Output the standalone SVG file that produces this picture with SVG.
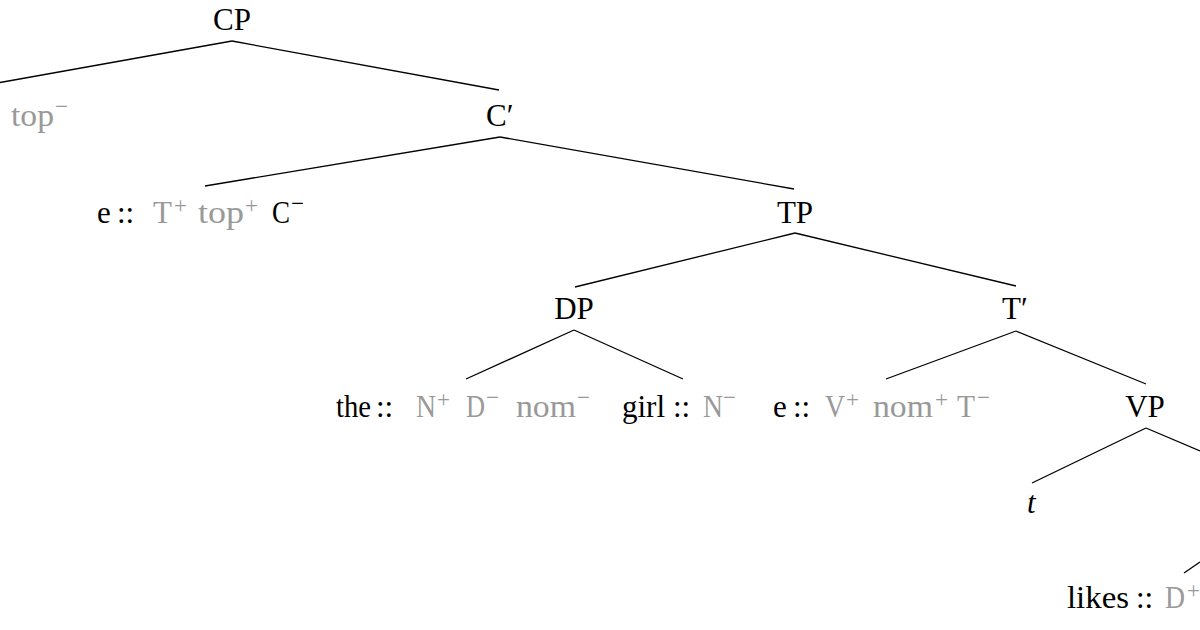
<svg xmlns="http://www.w3.org/2000/svg" width="1200" height="630" viewBox="0 0 1200 630">
<style>
text { font-family: "Liberation Serif", "DejaVu Serif", serif; font-size: 31px; fill: #000; }
.g { fill: #999; }
.sup { font-size: 23px; }
.c { text-anchor: middle; }
.it { font-style: italic; }
#connectors line { stroke: #000; stroke-width: 1.3; fill: none; }
</style>
<rect width="1200" height="630" fill="#fff"/>
<g id="connectors">
<line x1="232" y1="41" x2="0" y2="82.5"/>
<line x1="232" y1="41" x2="499" y2="90"/>
<line x1="500" y1="137" x2="205" y2="186"/>
<line x1="500" y1="137" x2="794" y2="189"/>
<line x1="795" y1="233" x2="575" y2="287"/>
<line x1="795" y1="233" x2="1016" y2="286"/>
<line x1="574" y1="330" x2="466" y2="379"/>
<line x1="574" y1="330" x2="683" y2="379"/>
<line x1="1016" y1="331" x2="886" y2="379"/>
<line x1="1016" y1="331" x2="1146" y2="384"/>
<line x1="1146" y1="428" x2="1032" y2="483"/>
<line x1="1146" y1="428" x2="1200" y2="451"/>
<line x1="1184" y1="573" x2="1200" y2="562"/>
</g>
<g id="node-CP"><text class="c" x="232" y="30">CP</text></g>
<g id="node-top"><text class="g"><tspan x="11" y="126" textLength="43" lengthAdjust="spacingAndGlyphs">top</tspan><tspan class="sup" x="55" y="114">−</tspan></text></g>
<g id="node-Cbar"><text x="486" y="126">C′</text></g>
<g id="node-C"><text><tspan x="97" y="223">e</tspan><tspan x="117" y="223">::</tspan><tspan class="g" x="153" y="223">T</tspan><tspan class="g sup" x="174" y="213">+</tspan><tspan class="g" x="198" y="223" textLength="46" lengthAdjust="spacingAndGlyphs">top</tspan><tspan class="g sup" x="245" y="213">+</tspan><tspan x="272" y="223" textLength="18" lengthAdjust="spacingAndGlyphs">C</tspan><tspan class="sup" x="291" y="211">−</tspan></text></g>
<g id="node-TP"><text class="c" x="795" y="223">TP</text></g>
<g id="node-DP"><text class="c" x="574" y="319">DP</text></g>
<g id="node-Tbar"><text x="1002" y="319">T′</text></g>
<g id="node-the"><text><tspan x="336" y="417" textLength="35" lengthAdjust="spacingAndGlyphs">the</tspan><tspan x="376" y="417">::</tspan><tspan class="g" x="416" y="417" textLength="20" lengthAdjust="spacingAndGlyphs">N</tspan><tspan class="g sup" x="437" y="407">+</tspan><tspan class="g" x="466" y="417" textLength="19" lengthAdjust="spacingAndGlyphs">D</tspan><tspan class="g sup" x="486" y="405">−</tspan><tspan class="g" x="516" y="417" textLength="60" lengthAdjust="spacingAndGlyphs">nom</tspan><tspan class="g sup" x="577" y="405">−</tspan></text></g>
<g id="node-girl"><text><tspan x="622" y="417">girl</tspan><tspan x="673" y="417">::</tspan><tspan class="g" x="703" y="417" textLength="20" lengthAdjust="spacingAndGlyphs">N</tspan><tspan class="g sup" x="723" y="405">−</tspan></text></g>
<g id="node-T"><text><tspan x="773" y="417">e</tspan><tspan x="793" y="417">::</tspan><tspan class="g" x="825" y="417" textLength="20" lengthAdjust="spacingAndGlyphs">V</tspan><tspan class="g sup" x="846" y="407">+</tspan><tspan class="g" x="873" y="417" textLength="60" lengthAdjust="spacingAndGlyphs">nom</tspan><tspan class="g sup" x="935" y="407">+</tspan><tspan class="g" x="957" y="417" textLength="18" lengthAdjust="spacingAndGlyphs">T</tspan><tspan class="g sup" x="977" y="405">−</tspan></text></g>
<g id="node-VP"><text class="c" x="1145" y="417">VP</text></g>
<g id="node-t"><text class="it" x="1027" y="513">t</text></g>
<g id="node-likes"><text><tspan x="1067" y="608" textLength="62" lengthAdjust="spacingAndGlyphs">likes</tspan><tspan x="1136" y="608">::</tspan><tspan class="g" x="1165" y="608" textLength="20" lengthAdjust="spacingAndGlyphs">D</tspan><tspan class="g sup" x="1187" y="598">+</tspan></text></g>
</svg>
